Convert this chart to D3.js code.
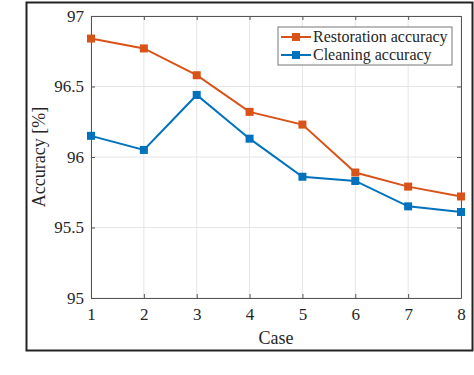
<!DOCTYPE html>
<html>
<head>
<meta charset="utf-8">
<script src="https://cdn.jsdelivr.net/npm/d3@7"></script>
<style>
  body { margin: 0; background: #fff; }
  text { font-family: "Liberation Serif", "Times New Roman", serif; fill: #262626; }
</style>
</head>
<body>
<div id="graph"></div>
<script>
const cases = [1, 2, 3, 4, 5, 6, 7, 8];
const restoration = [96.84, 96.77, 96.58, 96.32, 96.23, 95.89, 95.79, 95.72];
const cleaning = [96.15, 96.05, 96.44, 96.13, 95.86, 95.83, 95.65, 95.61];
const yTicks = [95, 95.5, 96, 96.5, 97];
const seriesNames = ["Restoration accuracy", "Cleaning accuracy"];
const colors = ["#D95319", "#0072BD"];

const W = 474, H = 375;
const margin = { top: 16, right: 13, bottom: 77, left: 91 };
const width = W - margin.left - margin.right;
const height = H - margin.top - margin.bottom;

const svg = d3.select("#graph").append("svg")
  .attr("width", W)
  .attr("height", H);

// outer figure border
svg.append("rect")
  .attr("x", 26.5).attr("y", 2.5)
  .attr("width", 446).attr("height", 348)
  .attr("fill", "none")
  .attr("stroke", "#222")
  .attr("stroke-width", 2);

const g = svg.append("g")
  .attr("transform", "translate(" + margin.left + "," + margin.top + ")");

const x = d3.scaleLinear().domain([1, 8]).range([0, width]);
const y = d3.scaleLinear().domain([95, 97]).range([height, 0]);

// grid
g.append("g").selectAll("line").data(cases).join("line")
  .attr("x1", d => x(d)).attr("x2", d => x(d))
  .attr("y1", 0).attr("y2", height)
  .attr("stroke", "#e6e6e6");
g.append("g").selectAll("line").data(yTicks).join("line")
  .attr("x1", 0).attr("x2", width)
  .attr("y1", d => y(d)).attr("y2", d => y(d))
  .attr("stroke", "#e6e6e6");

// axes
g.append("g")
  .attr("transform", "translate(0," + height + ")")
  .call(d3.axisBottom(x).tickValues(cases).tickFormat(d3.format("d"))
    .tickSizeInner(-4).tickSizeOuter(0).tickPadding(10));
g.append("g")
  .call(d3.axisLeft(y).tickValues(yTicks).tickFormat(d => d)
    .tickSizeInner(-4).tickSizeOuter(0).tickPadding(7));
g.append("g")
  .call(d3.axisTop(x).tickValues(cases).tickFormat("")
    .tickSizeInner(-4).tickSizeOuter(0));
g.append("g")
  .attr("transform", "translate(" + width + ",0)")
  .call(d3.axisRight(y).tickValues(yTicks).tickFormat("")
    .tickSizeInner(-4).tickSizeOuter(0));

g.selectAll(".domain").attr("stroke", "#555");
g.selectAll(".tick line").attr("stroke", "#555");
g.selectAll(".tick text")
  .style("font-size", "17px")
  .style("font-family", "'Liberation Serif', 'Times New Roman', serif")
  .attr("fill", "#262626");

// lines
const line = d3.line().x((d, i) => x(cases[i])).y(d => y(d));
[restoration, cleaning].forEach((vals, k) => {
  g.append("path")
    .datum(vals)
    .attr("fill", "none")
    .attr("stroke", colors[k])
    .attr("stroke-width", 2)
    .attr("d", line);
  g.append("g").selectAll("rect").data(vals).join("rect")
    .attr("x", (d, i) => x(cases[i]) - 4)
    .attr("y", d => y(d) - 4)
    .attr("width", 8).attr("height", 8)
    .attr("fill", colors[k]);
});

// legend
const lg = g.append("g").attr("transform", "translate(" + (278 - margin.left) + "," + (27 - margin.top) + ")");
lg.append("rect")
  .attr("width", 174).attr("height", 38)
  .attr("fill", "#fff")
  .attr("stroke", "#777");
seriesNames.forEach((name, k) => {
  const yy = 10 + k * 18;
  lg.append("line")
    .attr("x1", 3).attr("x2", 33)
    .attr("y1", yy).attr("y2", yy)
    .attr("stroke", colors[k]).attr("stroke-width", 2);
  lg.append("rect")
    .attr("x", 14).attr("y", yy - 4)
    .attr("width", 8).attr("height", 8)
    .attr("fill", colors[k]);
  lg.append("text")
    .attr("x", 35).attr("y", yy + 5)
    .style("font-size", "16px")
    .text(name);
});

// axis labels
g.append("text")
  .attr("x", width / 2).attr("y", height + 46)
  .attr("text-anchor", "middle")
  .style("font-size", "18px")
  .text("Case");
g.append("text")
  .attr("transform", "translate(-46," + (height / 2) + ")rotate(-90)")
  .attr("text-anchor", "middle")
  .style("font-size", "18px")
  .text("Accuracy [%]");
</script>
</body>
</html>
